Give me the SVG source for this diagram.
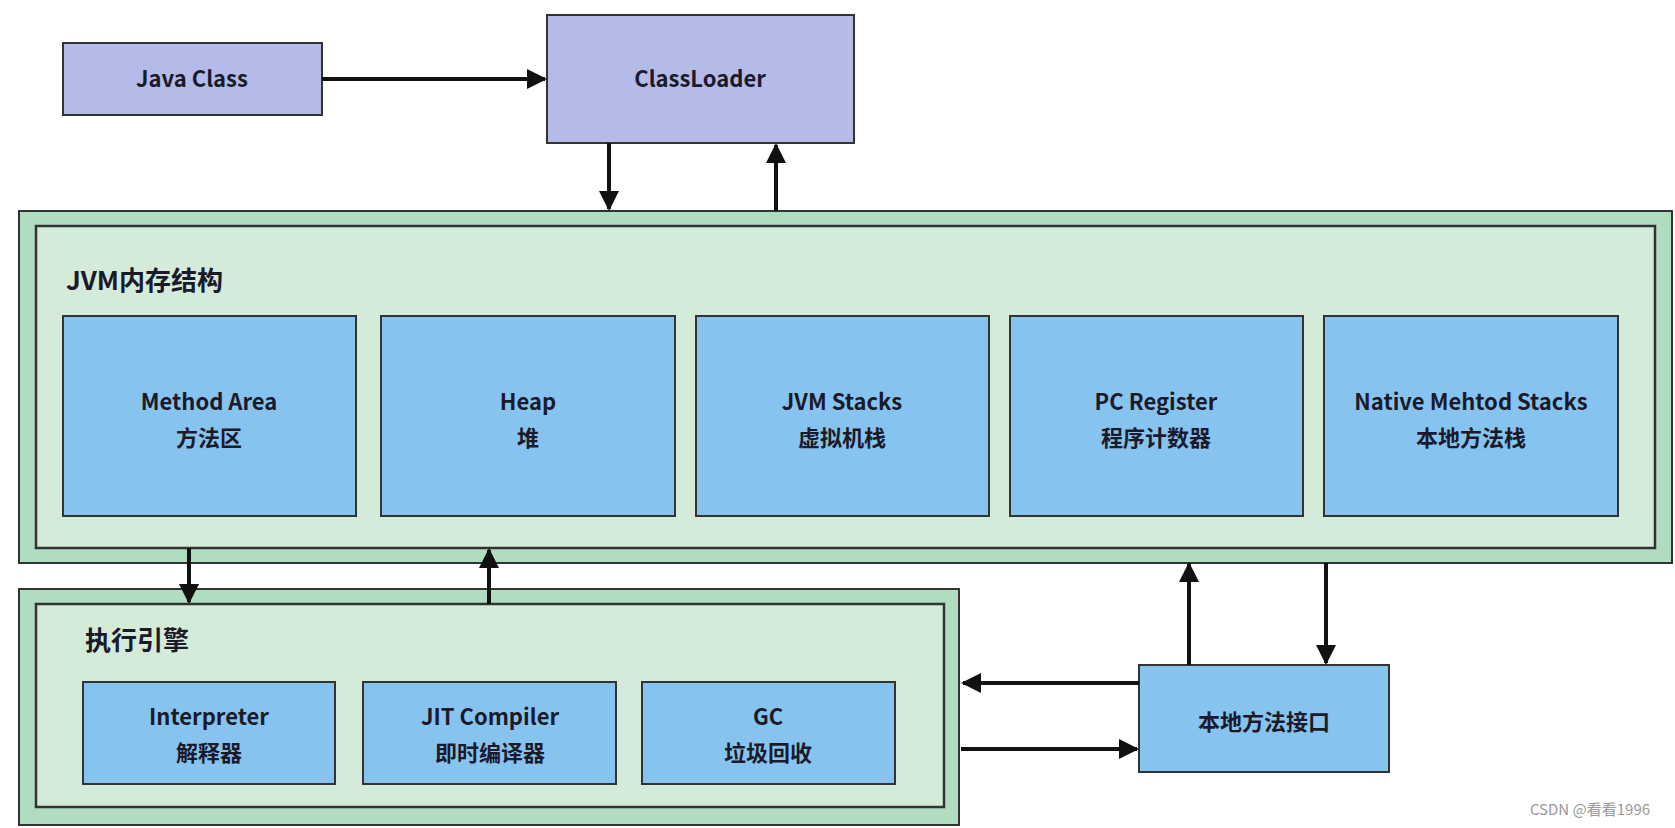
<svg xmlns="http://www.w3.org/2000/svg" width="1675" height="828" viewBox="0 0 1675 828">
<style>
text{font-family:"Noto Sans CJK SC","Noto Sans",sans-serif;font-weight:bold;fill:#1a1a2a;text-anchor:middle;font-size:22px}
.p{fill:#b4bbe8;stroke:#333;stroke-width:2}
.go{fill:#b0ddbf;stroke:#333;stroke-width:2}
.gi{fill:#d3ebd8;stroke:#333;stroke-width:2.5}
.b{fill:#86c3ee;stroke:#333;stroke-width:2}
.c{stroke:#111;stroke-width:4;fill:none;marker-end:url(#a)}
.t{text-anchor:start;font-size:26px}
</style>
<defs><marker id="a" viewBox="0 0 10 10" refX="9" refY="5" markerWidth="5" markerHeight="5" orient="auto" markerUnits="strokeWidth"><path d="M0,0L10,5L0,10z" fill="#111"/></marker></defs>
<rect width="1675" height="828" fill="#fff"/>
<g id="javaclass"><rect class="p" x="63" y="43" width="259" height="72"/><text x="192" y="87">Java Class</text></g>
<g id="classloader"><rect class="p" x="547" y="15" width="307" height="128"/><text x="700" y="87">ClassLoader</text></g>
<g id="jvm"><rect class="go" x="19" y="211" width="1653" height="352"/><rect class="gi" x="36" y="226" width="1619" height="322"/><text class="t" x="66" y="290">JVM内存结构</text></g>
<g id="method"><rect class="b" x="63" y="316" width="293" height="200"/><text x="209" y="410">Method Area</text><text x="209" y="446">方法区</text></g>
<g id="heap"><rect class="b" x="381" y="316" width="294" height="200"/><text x="528" y="410">Heap</text><text x="528" y="446">堆</text></g>
<g id="stacks"><rect class="b" x="696" y="316" width="293" height="200"/><text x="842" y="410">JVM Stacks</text><text x="842" y="446">虚拟机栈</text></g>
<g id="pc"><rect class="b" x="1010" y="316" width="293" height="200"/><text x="1156" y="410">PC Register</text><text x="1156" y="446">程序计数器</text></g>
<g id="native"><rect class="b" x="1324" y="316" width="294" height="200"/><text x="1471" y="410">Native Mehtod Stacks</text><text x="1471" y="446">本地方法栈</text></g>
<g id="engine"><rect class="go" x="19" y="589" width="940" height="236"/><rect class="gi" x="36" y="604" width="908" height="203"/><text class="t" x="85" y="650">执行引擎</text></g>
<g id="interp"><rect class="b" x="83" y="682" width="252" height="102"/><text x="209" y="725">Interpreter</text><text x="209" y="761">解释器</text></g>
<g id="jit"><rect class="b" x="363" y="682" width="253" height="102"/><text x="490" y="725">JIT Compiler</text><text x="490" y="761">即时编译器</text></g>
<g id="gc"><rect class="b" x="642" y="682" width="253" height="102"/><text x="768" y="725">GC</text><text x="768" y="761">垃圾回收</text></g>
<g id="nif"><rect class="b" x="1139" y="665" width="250" height="107"/><text x="1264" y="730">本地方法接口</text></g>
<g id="connectors">
<line class="c" x1="322" y1="79" x2="545" y2="79"/>
<line class="c" x1="609" y1="143" x2="609" y2="209"/>
<line class="c" x1="776" y1="211" x2="776" y2="145"/>
<line class="c" x1="189" y1="548" x2="189" y2="602"/>
<line class="c" x1="489" y1="604" x2="489" y2="550"/>
<line class="c" x1="1189" y1="665" x2="1189" y2="564"/>
<line class="c" x1="1326" y1="563" x2="1326" y2="663"/>
<line class="c" x1="1139" y1="683" x2="963" y2="683"/>
<line class="c" x1="961" y1="749" x2="1137" y2="749"/>
</g>
<text x="1590" y="815" style="font-size:15px;font-weight:normal;fill:#999">CSDN @看看1996</text>
</svg>
